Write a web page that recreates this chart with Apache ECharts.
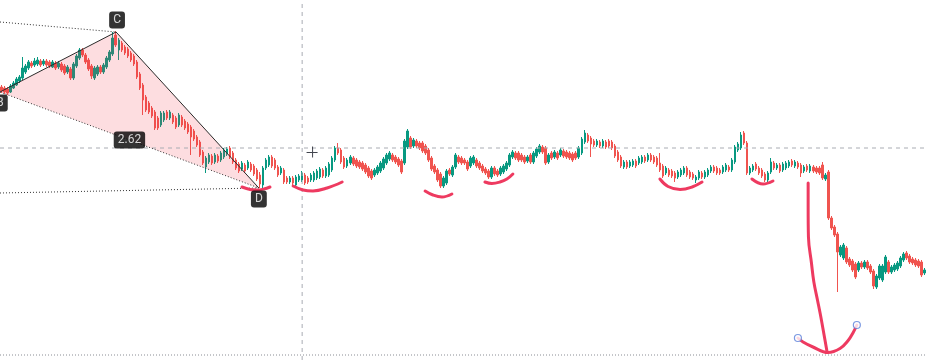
<!DOCTYPE html>
<html><head><meta charset="utf-8">
<script src="https://cdn.jsdelivr.net/npm/echarts@6/dist/echarts.min.js"></script>
<style>html,body{margin:0;padding:0;background:#fff;overflow:hidden}#c{width:926px;height:360px}</style>
</head><body><div id="c"></div><script>
// OHLC prices (one candle per bar)
const openP = [
273,272,271,268,272,275,279,282,288,292,
297,295,296,299,296,299,298,293,297,293,
296,294,288,291,282,294,302,310,305,300,
294,282,286,293,288,293,300,306,325,310,
317,313,311,307,304,298,286,275,263,257,
252,248,242,235,240,248,242,245,242,235,
243,239,236,233,229,223,218,208,193,198,
204,198,204,200,203,206,212,207,200,196,
191,195,192,196,194,190,185,175,192,195,
203,200,193,187,190,182,178,182,175,180,
180,185,182,180,180,182,183,190,184,185,
190,200,212,210,202,194,197,202,200,198,
197,195,192,189,185,187,189,192,197,201,
205,203,201,199,197,213,222,214,219,217,
217,214,210,202,194,190,186,174,177,190,
185,193,203,202,200,198,194,197,200,197,
194,191,189,183,192,189,186,188,191,195,
203,207,207,205,203,199,205,198,204,208,
213,212,198,207,203,207,205,209,208,207,
206,207,203,207,218,225,222,219,215,218,
214,218,219,218,214,208,203,193,198,194,
195,199,197,198,203,200,205,203,202,197,
194,187,190,189,187,183,185,187,192,188,
186,180,182,187,183,185,189,193,192,190,
188,190,193,190,198,210,212,227,217,187,
190,196,192,190,186,180,188,197,192,195,
190,192,194,199,194,197,195,189,194,189,
193,192,192,195,181,188,142,133,126,105,
102,112,101,99,96,90,97,93,98,94,
89,73,82,80,88,98,88,90,91,94,
100,107,104,101,100,99,98,87];
const closeP = [
269,268,267,274,277,281,283,292,294,298,
294,299,300,295,299,295,294,298,292,297,
290,287,293,282,296,304,310,305,298,291,
284,292,293,288,295,302,308,322,315,320,
310,307,304,300,296,283,272,260,250,248,
244,232,232,247,247,242,248,238,233,245,
235,232,228,223,221,215,205,197,202,205,
197,205,199,207,210,211,203,198,192,189,
197,189,198,190,186,181,176,192,200,203,
194,192,185,192,178,178,182,177,183,184,
187,177,178,185,187,189,191,184,192,196,
202,212,207,198,193,200,203,196,194,193,
191,188,184,182,190,193,197,201,205,207,
200,198,195,188,219,229,213,220,214,212,
209,207,200,191,188,180,174,182,189,186,
193,205,198,197,197,191,202,203,194,192,
189,187,183,192,186,185,192,194,197,205,
208,202,200,200,198,203,198,207,211,214,
208,197,205,202,208,202,210,204,203,202,
200,202,212,221,227,219,216,215,219,214,
219,213,214,212,204,200,194,198,193,198,
199,194,202,203,199,205,200,198,195,190,
184,192,185,184,182,188,190,192,185,183,
182,183,188,183,188,190,193,189,187,187,
193,195,190,200,213,216,225,217,187,192,
194,191,187,184,180,187,198,192,195,189,
196,197,198,195,198,193,187,193,190,194,
189,188,187,182,185,142,132,125,108,113,
115,98,95,90,83,97,93,98,92,88,
74,84,94,94,103,88,93,95,97,102,
106,102,98,97,95,94,85,90];
const lowP = [
267,266,265,267,271,274,277,280,286,290,
292,293,294,293,294,293,292,292,290,291,
288,285,286,280,280,292,300,303,296,289,
281,280,284,286,286,291,298,304,313,300,
308,305,302,298,294,281,270,245,248,246,
242,230,230,233,238,240,240,236,231,233,
233,230,226,205,219,213,203,195,187,196,
195,196,197,198,201,204,201,196,190,187,
189,187,190,188,184,179,172,172,190,193,
192,190,183,185,176,176,176,175,173,178,
178,175,176,178,178,180,181,182,182,183,
188,198,205,196,191,192,195,194,192,191,
189,186,182,180,183,185,187,190,195,199,
198,196,193,186,195,211,211,212,212,210,
207,205,198,189,186,178,172,172,175,184,
183,191,196,195,195,189,192,195,192,190,
187,185,181,181,184,183,184,186,189,193,
201,200,198,198,196,197,196,196,202,206,
206,195,196,200,201,200,203,202,201,200,
198,200,201,205,216,217,203,213,213,212,
212,211,212,210,202,198,192,191,191,192,
193,192,195,196,197,198,198,196,193,188,
182,185,183,182,178,181,183,185,183,181,
180,177,180,181,181,183,187,187,185,185,
186,188,188,188,196,208,210,215,185,185,
188,189,185,182,178,177,186,190,190,187,
188,190,192,193,192,191,183,187,188,187,
187,186,185,180,179,140,130,123,68,103,
100,96,93,88,81,88,91,91,90,86,
71,71,80,78,86,86,86,88,89,92,
98,100,96,95,93,92,83,85];
const highP = [
275,274,273,276,279,283,285,303,296,300,
299,302,303,301,301,301,300,300,299,299,
298,296,295,293,298,306,312,312,307,302,
296,294,295,295,297,304,310,328,329,322,
319,315,313,309,306,300,288,277,265,259,
254,250,244,249,249,250,250,247,244,247,
245,241,238,235,231,225,220,210,204,207,
206,207,206,209,212,213,214,209,202,198,
199,197,200,198,196,192,188,194,202,205,
205,202,195,194,192,184,184,184,185,186,
189,187,184,187,189,191,193,192,194,198,
204,214,217,212,204,202,205,204,202,200,
199,197,194,191,192,195,199,203,207,209,
207,205,203,201,221,231,224,222,221,219,
219,216,212,204,196,192,188,184,191,192,
195,207,205,204,202,200,204,205,202,199,
196,193,191,194,194,191,194,196,199,207,
210,209,209,207,205,205,207,209,213,216,
215,214,207,209,210,209,212,211,210,209,
208,209,214,223,230,227,224,221,221,220,
221,220,221,220,216,210,205,200,200,200,
201,201,204,205,205,207,207,205,204,207,
196,194,192,191,189,190,192,194,194,190,
188,185,190,189,190,192,195,195,194,192,
195,197,195,202,215,218,228,229,219,194,
196,198,194,192,188,189,202,199,197,197,
198,199,200,201,200,199,197,195,196,196,
195,194,194,198,187,190,144,135,128,115,
117,114,103,101,98,99,99,100,100,96,
91,86,96,96,105,100,95,97,99,104,
108,109,106,103,102,101,100,92];
const categories = openP.map((_, i) => 'Bar ' + (i + 1));

// Harmonic pattern pivots [bar index, price]
const pointA = [-0.5, 338];
const pointX = [-0.5, 167];
const pointB = [-0.5, 268];
const pointC = [38.1, 328];
const pointD = [85.6, 172];
const ratioText = '2.62';

// crosshair / guide levels
const crossBar = 100;
const crossPrice = 212;
const lowerGuide = 5;
const cursorPos = [103.3, 208];

// hand-drawn brush strokes [bar index, price]
const stroke1 = [[80.0,173],[82.7,170.5],[85.0,170],[87.3,171],[89.3,173]];
const stroke2 = [[97.0,174],[100.3,170],[103.6,169],[108.3,172],[113.3,178]];
const stroke3 = [[140.9,169],[143.5,165],[146.5,163],[149.8,166]];
const stroke4 = [[160.8,178],[163.1,176.5],[165.8,178],[168.1,181],[170.1,186]];
const stroke5 = [[219.0,181],[221.7,173.5],[225.7,170.5],[229.7,173],[233.0,178]];
const stroke6 = [[249.6,181],[253.3,176],[256.6,179]];
const stroke7 = [[268.3,177],[268.3,153],[268.4,123],[269.4,97],[270.2,78],[271.4,60],[272.4,45],[273.6,25],[274.6,8]];
const stroke8 = [[264.9,22],[266.6,18],[269.9,13],[274.9,7.5],[278.9,11.5],[281.6,19.5],[283.2,27],[284.5,35]];
const strokeHandles = [[264.9,22],[284.5,35]];

const UP = '#089981', DOWN = '#f0544f';
const BRUSH = '#ee3a60';
const lastIdx = openP.length - 0.5;

const chart = echarts.init(document.getElementById('c'), null, {renderer: 'canvas'});
function seg(data, style, z) {
  return {type: 'line', xAxisIndex: 1, data: data, symbol: 'none', silent: true,
    lineStyle: style, z: z || 5, animation: false};
}
function brush(data) {
  return {type: 'line', xAxisIndex: 1, data: data, symbol: 'none', smooth: 0.4, silent: true,
    lineStyle: {color: BRUSH, width: 3, cap: 'round', join: 'round'}, z: 8, animation: false};
}
const labelBase = {show: true, formatter: '{b}', color: '#fff', backgroundColor: '#000',
  fontFamily: 'Roboto', fontSize: 12, padding: [3, 4, 2, 4], borderRadius: 3, position: 'inside'};

chart.setOption({
  animation: false,
  backgroundColor: '#ffffff',
  grid: {left: 0, right: 0, top: 0, bottom: 0},
  xAxis: [
    {type: 'category', data: categories, show: false, boundaryGap: true},
    {type: 'value', min: -0.5, max: lastIdx, show: false}
  ],
  yAxis: {type: 'value', min: 0, max: 360, show: false},
  series: [
    {type: 'candlestick', xAxisIndex: 0, barWidth: 2, z: 2,
      data: categories.map((_, i) => [openP[i], closeP[i], lowP[i], highP[i]]),
      itemStyle: {color: UP, color0: DOWN, borderColor: UP, borderColor0: DOWN, borderWidth: 1}},
    {type: 'custom', xAxisIndex: 1, silent: true, z: 3, data: [[0, 0]],
      renderItem: (p, api) => ({type: 'polygon',
        shape: {points: [pointB, pointC, pointD].map(q => api.coord(q))},
        style: {fill: 'rgba(242,54,69,0.17)'}})},
    seg([[-0.5, crossPrice], [lastIdx, crossPrice]], {color: '#a9acb3', width: 1, type: [4, 4]}, 4),
    seg([[crossBar, 0], [crossBar, 360]], {color: '#a9acb3', width: 1, type: [4, 4]}, 4),
    seg([[-0.5, lowerGuide], [lastIdx, lowerGuide]], {color: '#8a8d94', width: 1, type: [1, 2]}, 4),
    seg([pointA, pointC], {color: '#333', width: 1, type: [1, 2]}),
    seg([pointX, pointD], {color: '#333', width: 1, type: [1, 2]}),
    seg([pointB, pointD], {color: '#333', width: 1, type: [1, 2]}),
    seg([pointB, pointC, pointD], {color: '#2a2a2a', width: 1}),
    brush(stroke1), brush(stroke2), brush(stroke3), brush(stroke4),
    brush(stroke5), brush(stroke6), brush(stroke7), brush(stroke8),
    {type: 'scatter', xAxisIndex: 1, silent: true, z: 9, data: strokeHandles,
      symbol: 'circle', symbolSize: 7,
      itemStyle: {color: '#ffffff', borderColor: '#5b7fd9', borderWidth: 1.2}},
    {type: 'scatter', xAxisIndex: 1, silent: true, z: 10, symbolSize: 0,
      label: labelBase,
      data: [
        {name: 'B', value: pointB, label: {offset: [0, 11]}},
        {name: 'C', value: pointC, label: {offset: [1, -12]}},
        {name: 'D', value: pointD, label: {offset: [0, 11]}},
        {name: ratioText, value: [(pointB[0] + pointD[0]) / 2, (pointB[1] + pointD[1]) / 2]}
      ]},
    {type: 'scatter', xAxisIndex: 1, silent: true, z: 11, data: [cursorPos],
      symbol: 'path://M0,5.5H11V6.5H0ZM5.5,0H6.5V11H5.5Z', symbolSize: 11,
      itemStyle: {color: '#131722'}}
  ]
});
</script></body></html>
